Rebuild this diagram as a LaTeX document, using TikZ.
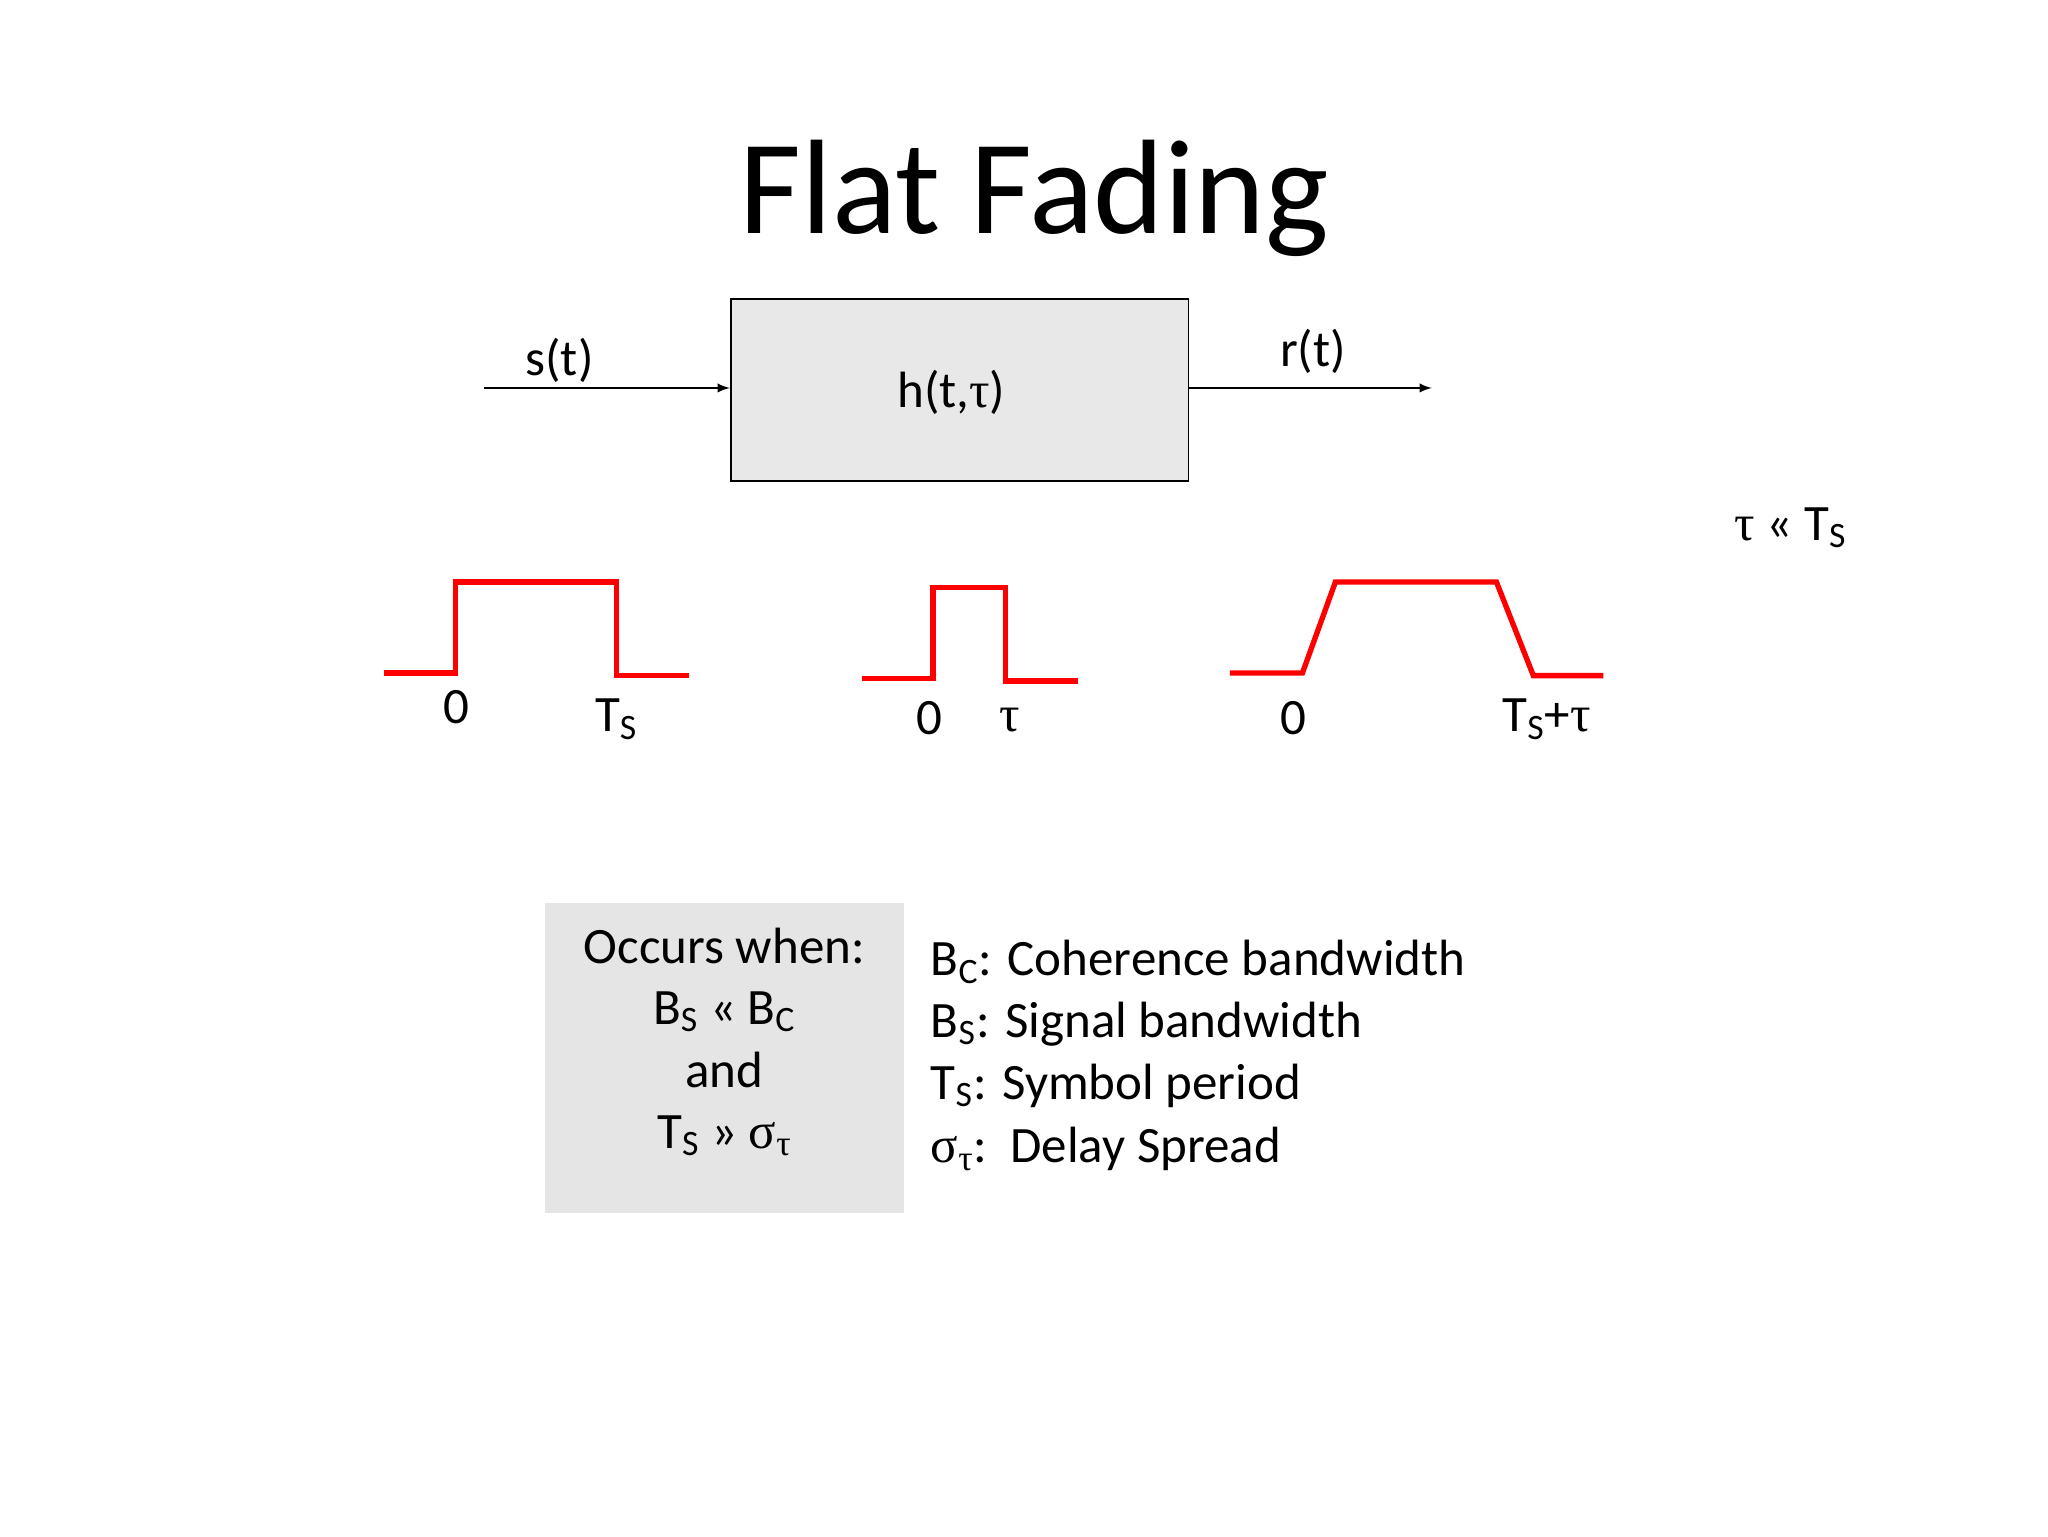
\documentclass[tikz,border=0pt]{standalone}
\usepackage{fontspec}
\setmainfont{Carlito}
\newfontfamily\grk{Liberation Serif}
\newcommand{\tu}{{\grk τ}}
\newcommand{\sg}{{\grk σ}}
\newcommand{\sbs}[1]{\textsubscript{#1}}
\begin{document}
\begin{tikzpicture}[x=0.02cm,y=-0.02cm,
  txt/.style={font=\fontsize{22}{26}\selectfont, inner sep=0pt},
  pulse/.style={red, line width=2.3pt},
  arr/.style={-latex, line width=0.8pt}]
\useasboundingbox (0,0) rectangle (1552,1164);
\node[font=\fontsize{58}{64}\selectfont] (title) at (784,150) {Flat Fading};
\node[draw, fill=black!9, line width=0.8pt, minimum width=347*0.02cm, minimum height=138*0.02cm, anchor=north west] (box) at (553,226) {};
\node[txt] (h) at (721,297) {h(t,\tu)};
\coordinate (in) at (367,294);
\coordinate (out) at (1085,294);
\draw[arr] (in) -- (box.west |- in);
\draw[arr] (box.east |- out) -- (out);
\node[txt] (s) at (424,273) {s(t)};
\node[txt] (r) at (995,266) {r(t)};
\node[txt] (cond) at (1357,400) {\tu{} << T\sbs{S}};
\draw[pulse] (291,510) -- (345,510) -- (345,441) -- (467,441) -- (467,512) -- (522,512);
\node[txt] (z1) at (346,536) {0};
\node[txt] (t1) at (467,545) {T\sbs{S}};
\draw[pulse] (653,514) -- (707,514) -- (707,445) -- (762,445) -- (762,516) -- (817,516);
\node[txt] (z2) at (704,544) {0};
\node[txt] (t2) at (765,546) {\tu};
\draw[pulse] (932,510) -- (987,510) -- (1012,441) -- (1134,441) -- (1162,512) -- (1215,512);
\node[txt] (z3) at (980,544) {0};
\node[txt] (t3) at (1172,545) {T\sbs{S}+\tu};
\node[fill=black!10, minimum width=272*0.02cm, minimum height=235*0.02cm, anchor=north west] (gbox) at (413,684) {};
\node[txt] (o1) at (549,717) {Occurs when:};
\node[txt] (o2) at (549,767) {B\sbs{S} << B\sbs{C}};
\node[txt] (o3) at (549,811) {and};
\node[txt] (o4) at (549,861) {T\sbs{S} >> \sg\sbs{\tu}};
\node[txt, anchor=west] (d1) at (705,729) {B\sbs{C}: Coherence bandwidth};
\node[txt, anchor=west] (d2) at (705,776) {B\sbs{S}: Signal bandwidth};
\node[txt, anchor=west] (d3) at (705,823) {T\sbs{S}: Symbol period};
\node[txt, anchor=west] (d4) at (705,871) {\sg\sbs{\tu}:\ \ Delay Spread};
\end{tikzpicture}
\end{document}
